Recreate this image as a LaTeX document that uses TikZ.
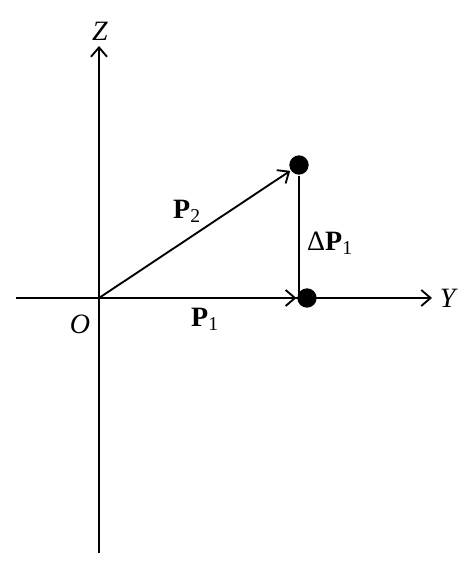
\documentclass[tikz,border=0pt]{standalone}
\usepackage{fontspec}
\setmainfont{Liberation Serif}
\usetikzlibrary{arrows.meta}

\newcommand{\vb}[2]{\textbf{#1}\textsubscript{#2}}

\begin{document}
\begin{tikzpicture}[->,>={Straight Barb[length=7pt,width=12pt]}
  ,x=0.75pt,y=0.75pt
  ,line width=1.4pt]
  \tikzstyle{every node}=[font=\fontsize{21}{24}\selectfont]
  \tikzstyle{dot}=[circle,fill,inner sep=0pt,minimum size=14.5pt]

  \useasboundingbox (0,0) rectangle (474,569);

  \coordinate (zlo)  at (99,16);
  \coordinate (ztip) at (99,523);
  \coordinate (ylo)  at (16,271);
  \coordinate (ytip) at (432,271);
  \coordinate (O)    at (99,271);
  \node[dot] (p1) at (307,271) {};
  \node[dot] (p2) at (299,404) {};

  \node (zl)  at (100,538) {\textit{Z}};
  \node (yl)  at (449,271) {\textit{Y}};
  \node (ol)  at (80,245)  {\textit{O}};
  \node (p1l) at (205,250) {\vb{P}{1}};
  \node (p2l) at (187,358) {\vb{P}{2}};
  \node (dpl) at (330,326) {Δ\vb{P}{1}};

  \path
  (zlo) edge (ztip)
  (ylo) edge (ytip)
  (O)   edge (p1)
  (O)   edge (p2)
  ;
  \path [-]
  (p2)  edge (p2 |- O)
  ;

\end{tikzpicture}
\end{document}
